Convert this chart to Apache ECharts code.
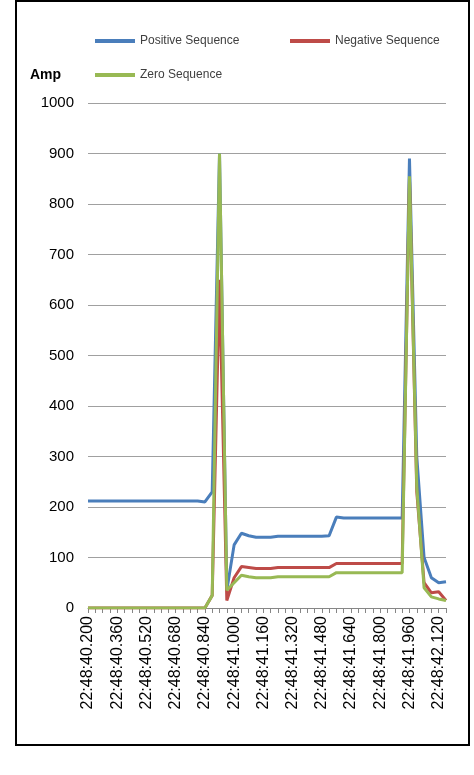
<!DOCTYPE html>
<html>
<head>
    <meta charset="utf-8">
    <script src="https://cdn.jsdelivr.net/npm/echarts@6/dist/echarts.min.js"></script>
    <style>
        html, body { margin: 0; padding: 0; background: #fff; }
        #chart { width: 474px; height: 775px; }
    </style>
</head>
<body>
<div id="chart"></div>
<script>
    // time stamps every 0.04 s
    var times = []
    for (let i = 0; i < 50; i++) {
        var ms = 40200 + i * 40
        times.push('22:48:' + (ms / 1000).toFixed(3))
    }

    var positive = [212, 212, 212, 212, 212, 212, 212, 212, 212, 212, 212, 212, 212, 212, 212, 212, 210, 230, 900, 35,
        125, 148, 143, 140, 140, 140, 142, 142, 142, 142, 142, 142, 142, 143, 180, 178, 178, 178, 178, 178,
        178, 178, 178, 178, 890, 300, 100, 60, 50, 52]
    var negative = [0, 0, 0, 0, 0, 0, 0, 0, 0, 0, 0, 0, 0, 0, 0, 0, 0, 25, 650, 15,
        60, 82, 80, 78, 78, 78, 80, 80, 80, 80, 80, 80, 80, 80, 88, 88, 88, 88, 88, 88,
        88, 88, 88, 88, 850, 230, 50, 30, 32, 15]
    var zero = [0, 0, 0, 0, 0, 0, 0, 0, 0, 0, 0, 0, 0, 0, 0, 0, 0, 25, 900, 35,
        50, 65, 62, 60, 60, 60, 62, 62, 62, 62, 62, 62, 62, 62, 70, 70, 70, 70, 70, 70,
        70, 70, 70, 70, 855, 240, 40, 22, 18, 15]

    var names = ['Positive Sequence', 'Negative Sequence', 'Zero Sequence']
    var colors = ['#4a7ebb', '#be4b48', '#98b954']

    var myChart = echarts.init(document.getElementById('chart'))

    var legendBase = {
        itemWidth: 40, itemHeight: 4,
        icon: 'rect',
        textStyle: {fontFamily: 'Liberation Sans', fontSize: 12, color: '#404040'}
    }

    myChart.setOption({
        animation: false,
        color: colors,
        graphic: [{
            type: 'rect',
            shape: {x: 16, y: 1, width: 453, height: 744},
            style: {fill: 'none', stroke: '#000', lineWidth: 2}
        }, {
            type: 'text', left: 30, top: 68,
            style: {text: 'Amp', font: 'bold 14px Liberation Sans', fill: '#000'}
        }],
        legend: [
            Object.assign({left: 90, top: 30, data: [names[0]]}, legendBase),
            Object.assign({left: 285, top: 30, data: [names[1]]}, legendBase),
            Object.assign({left: 90, top: 64, data: [names[2]]}, legendBase)
        ],
        grid: {left: 88, right: 28, top: 103, bottom: 167},
        xAxis: {
            type: 'category',
            boundaryGap: false,
            data: times,
            axisLine: {lineStyle: {color: '#868686'}},
            axisTick: {interval: 0, length: 5, lineStyle: {color: '#868686'}},
            axisLabel: {
                interval: 3, rotate: 90, fontSize: 16,
                fontFamily: 'Liberation Sans', color: '#000'
            }
        },
        yAxis: {
            type: 'value',
            min: 0, max: 1000, interval: 100,
            axisLine: {show: false},
            axisTick: {show: false},
            splitLine: {lineStyle: {color: '#a0a0a0'}},
            axisLabel: {fontSize: 15, fontFamily: 'Liberation Sans', color: '#000', margin: 14,
                formatter: function (v) { return String(v) }}
        },
        series: [
            {name: names[0], type: 'line', data: positive, showSymbol: false, lineStyle: {width: 3}},
            {name: names[1], type: 'line', data: negative, showSymbol: false, lineStyle: {width: 3}},
            {name: names[2], type: 'line', data: zero, showSymbol: false, lineStyle: {width: 3}}
        ]
    })
</script>
</body>
</html>
